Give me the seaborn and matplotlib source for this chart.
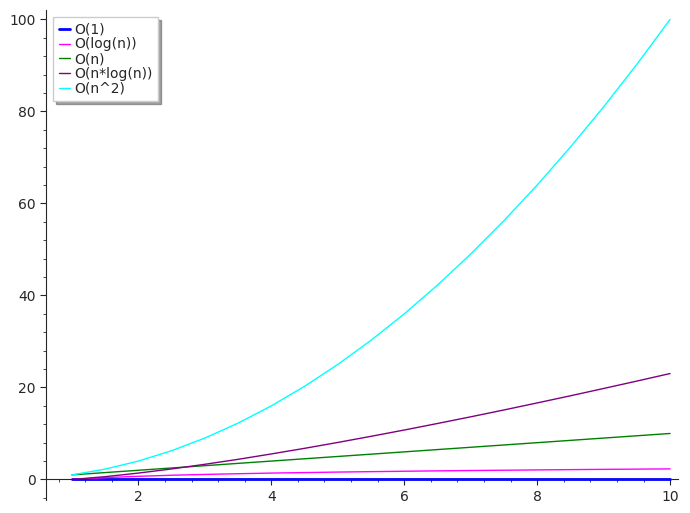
import matplotlib
matplotlib.use("Agg")
import matplotlib.pyplot as plt
import seaborn as sns
from matplotlib.ticker import AutoMinorLocator

sns.set_style("ticks")
plt.rcParams["font.family"] = ["DejaVu Sans"]

n = [1.0, 1.5, 2.0, 2.5, 3.0, 3.5, 4.0, 4.5, 5.0, 5.5, 6.0, 6.5, 7.0, 7.5, 8.0, 8.5, 9.0, 9.5, 10.0]
o_const = [0.0] * 19
o_log = [0.0, 0.41, 0.69, 0.92, 1.10, 1.25, 1.39, 1.50, 1.61, 1.70, 1.79, 1.87, 1.95, 2.01, 2.08, 2.14, 2.20, 2.25, 2.30]
o_n = [1.0, 1.5, 2.0, 2.5, 3.0, 3.5, 4.0, 4.5, 5.0, 5.5, 6.0, 6.5, 7.0, 7.5, 8.0, 8.5, 9.0, 9.5, 10.0]
o_nlog = [0.0, 0.61, 1.39, 2.29, 3.30, 4.38, 5.55, 6.77, 8.05, 9.38, 10.75, 12.17, 13.62, 15.11, 16.64, 18.19, 19.78, 21.39, 23.03]
o_n2 = [1.0, 2.25, 4.0, 6.25, 9.0, 12.25, 16.0, 20.25, 25.0, 30.25, 36.0, 42.25, 49.0, 56.25, 64.0, 72.25, 81.0, 90.25, 100.0]

series = [
    ("O(1)", o_const, "blue", 2.0),
    ("O(log(n))", o_log, "magenta", 1.0),
    ("O(n)", o_n, "green", 1.0),
    ("O(n*log(n))", o_nlog, "purple", 1.0),
    ("O(n^2)", o_n2, "cyan", 1.0),
]

fig = plt.figure(figsize=(6.9, 5.13), dpi=100)
ax = fig.add_axes([0.0667, 0.025, 0.916, 0.955])
for label, vals, color, lw in series:
    sns.lineplot(x=n, y=vals, ax=ax, color=color, linewidth=lw, label=label)

ax.set_xlim(0.61, 10.12)
ax.set_ylim(-4.5, 102)
ax.spines["top"].set_visible(False)
ax.spines["right"].set_visible(False)
ax.spines["bottom"].set_position(("data", 0))
ax.set_xticks([2, 4, 6, 8, 10])
ax.set_yticks([0, 20, 40, 60, 80, 100])
ax.xaxis.set_minor_locator(AutoMinorLocator(5))
ax.yaxis.set_minor_locator(AutoMinorLocator(5))
ax.tick_params(which="major", length=4, labelsize=10)
ax.tick_params(which="minor", length=2)

leg = ax.legend(loc="upper left", fontsize=10, shadow=True, fancybox=False,
                handlelength=0.8, handletextpad=0.3, labelspacing=0.05,
                borderaxespad=0.5, framealpha=1)
leg.get_frame().set_edgecolor("0.8")

fig.savefig("out.png", dpi=100)
